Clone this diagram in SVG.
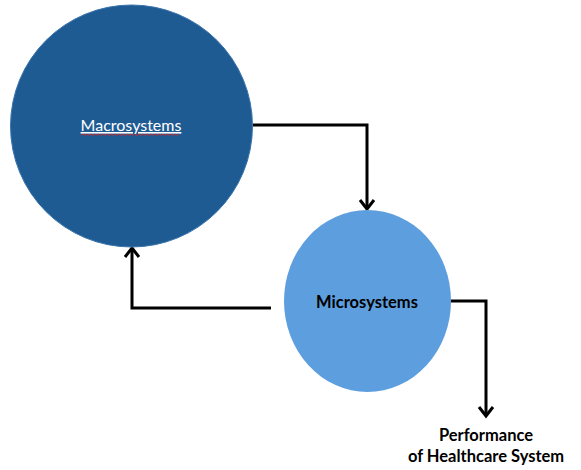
<svg xmlns="http://www.w3.org/2000/svg" width="581" height="470" viewBox="0 0 581 470">
<style>
.conn{fill:none;stroke:#000;stroke-width:3;stroke-linejoin:miter}
.head{fill:none;stroke:#000;stroke-width:3;stroke-linecap:butt;stroke-linejoin:miter}
.lbl{font-family:Lato,"Liberation Sans",sans-serif;text-anchor:middle}
</style>
<rect width="581" height="470" fill="#fff"/>
<g id="connectors">
<path class="conn" d="M253,125 H367 V208"/>
<path class="head" d="M360,200 L367,209 L374,200"/>
<path class="conn" d="M271,308 H132 V249"/>
<path class="head" d="M125,257 L132,248 L139,257"/>
<path class="conn" d="M451,301 H486 V415"/>
<path class="head" d="M479,407 L486,416 L493,407"/>
</g>
<g id="macrosystems">
<circle cx="131.5" cy="126" r="121" fill="#1F5B93" stroke="#3A75AD" stroke-width="1"/>
<text class="lbl" x="131" y="131" font-size="16" fill="#fff" text-decoration="underline">Macrosystems</text>
<path d="M81,135.5 l2,-1.5 l2,1.5 l2,-1.5 l2,1.5 l2,-1.5 l2,1.5 l2,-1.5 l2,1.5 l2,-1.5 l2,1.5 l2,-1.5 l2,1.5 l2,-1.5 l2,1.5 l2,-1.5 l2,1.5 l2,-1.5 l2,1.5 l2,-1.5 l2,1.5 l2,-1.5 l2,1.5 l2,-1.5 l2,1.5 l2,-1.5 l2,1.5 l2,-1.5 l2,1.5 l2,-1.5 l2,1.5 l2,-1.5 l2,1.5 l2,-1.5 l2,1.5 l2,-1.5 l2,1.5 l2,-1.5 l2,1.5 l2,-1.5 l2,1.5 l2,-1.5 l2,1.5 l2,-1.5 l2,1.5 l2,-1.5 l2,1.5 l2,-1.5 l2,1.5 l2,-1.5" fill="none" stroke="#E02020" stroke-width="0.8"/>
</g>
<g id="microsystems">
<ellipse cx="367.5" cy="301" rx="83.5" ry="91" fill="#5D9EDE"/>
<text class="lbl" x="367" y="308" font-size="16.5" font-weight="bold" fill="#000">Microsystems</text>
</g>
<g id="performance">
<text class="lbl" x="486" y="441" font-size="16.5" font-weight="bold" fill="#000">Performance</text>
<text class="lbl" x="486" y="462" font-size="16.5" font-weight="bold" fill="#000">of Healthcare System</text>
</g>
</svg>
